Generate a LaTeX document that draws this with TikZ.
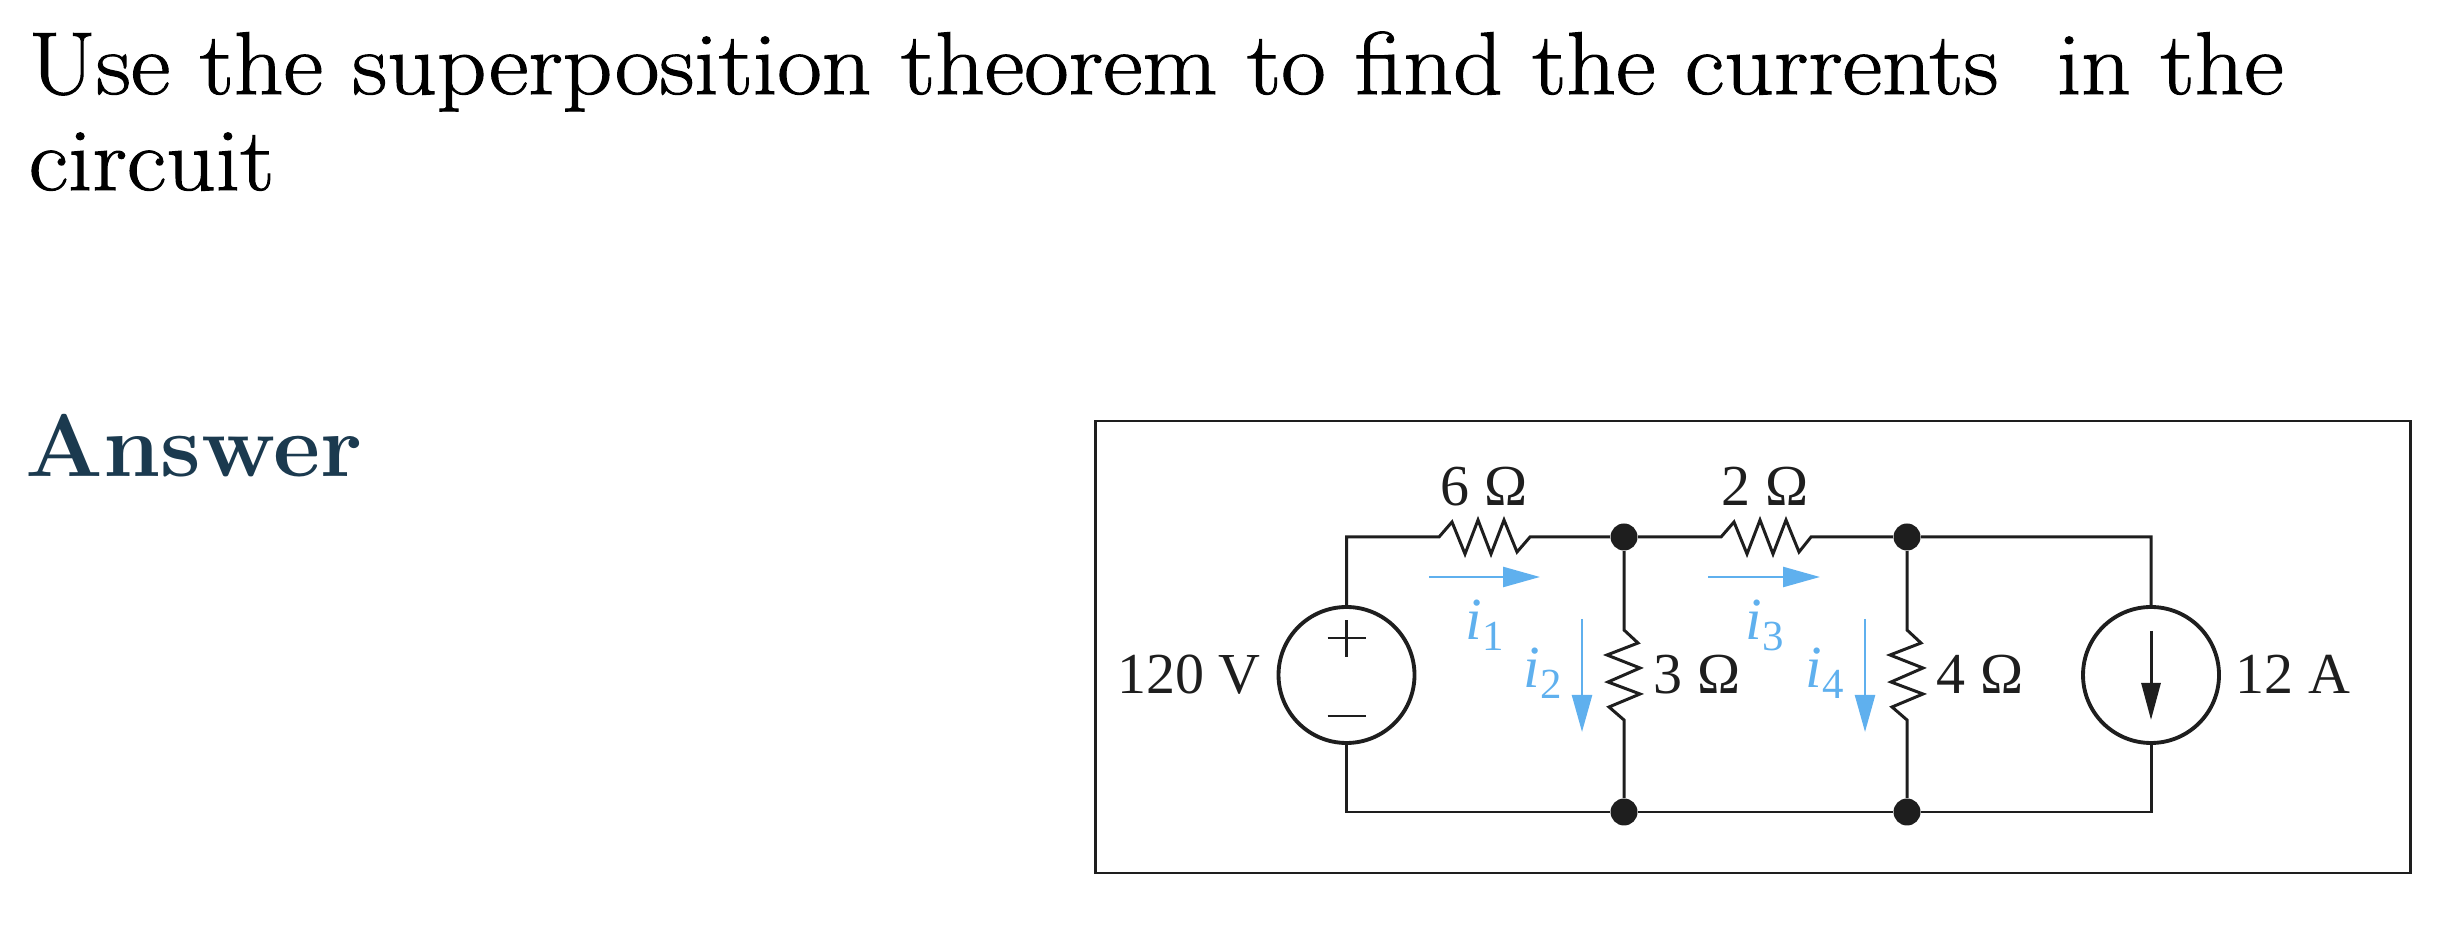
\documentclass[tikz,border=0pt]{standalone}
\usepackage{fontspec}
\usepackage{xcolor}
\usetikzlibrary{arrows.meta}
\newfontfamily\circfont{Liberation Serif}
\newfontfamily\titlefont{Latin Modern Roman}[FakeStretch=1.092,FakeBold=1.2]
\newfontfamily\answerfont{Latin Modern Roman}[FakeStretch=1.03]
\definecolor{HeadBlue}{RGB}{27,58,79}
\definecolor{CurBlue}{RGB}{95,176,238}
\definecolor{WireBlack}{RGB}{30,30,30}
\newcommand{\curlabel}[1]{\textit{i}\raisebox{-2.9pt}{\fontsize{12.2}{12}\selectfont #1}}
\tikzset{
  wire/.style={WireBlack,line width=0.85pt},
  source/.style={circle,draw=WireBlack,line width=1.1pt,minimum size=1.36cm,inner sep=0pt},
  junction/.style={circle,fill=WireBlack,minimum size=0.27cm,inner sep=0pt},
  heading/.style={anchor=base west,inner sep=0pt,font=\titlefont\fontsize{25.3}{26}\selectfont},
  circlabel/.style={anchor=base,inner sep=0pt,WireBlack,font=\circfont\fontsize{16.5}{16}\selectfont},
  curlab/.style={anchor=base west,inner sep=0pt,CurBlue,font=\circfont\fontsize{17}{17}\selectfont},
  curarrow/.style={CurBlue,line width=0.7pt,-{Triangle[length=0.37cm,width=0.2cm]}},
  hres/.style={to path={-- ++(.13,.15) -- ++(.13,-.32) -- ++(.13,.34) -- ++(.13,-.34) -- ++(.13,.34) -- ++(.13,-.32) -- (\tikztotarget)}},
  vres/.style={to path={-- ++(.14,-.13) -- ++(-.31,-.12) -- ++(.33,-.13) -- ++(-.32,-.14) -- ++(.32,-.12) -- ++(-.31,-.13) -- (\tikztotarget)}}
}
\begin{document}
\begin{tikzpicture}
  \useasboundingbox (0,0) rectangle (24.48,9.44);
  \node[heading] (title1) at (0.28,8.50) {Use the superposition theorem to find the currents\ \ in the};
  \node[heading] (title2) at (0.28,7.54) {circuit};
  \node[heading,HeadBlue,font=\answerfont\fontsize{25.3}{26}\selectfont\bfseries] (answer) at (0.25,4.67) {Answer};

  \node[draw=WireBlack,line width=0.65pt,inner sep=0pt,minimum width=13.15cm,minimum height=4.52cm] (frame) at (17.53,2.97) {};

  \node[source] (vs) at (13.465,2.69) {};
  \node[source] (is) at (21.51,2.69) {};
  \node[junction] (na) at (16.24,4.07) {};
  \node[junction] (nb) at (19.07,4.07) {};
  \node[junction] (nc) at (16.24,1.32) {};
  \node[junction] (nd) at (19.07,1.32) {};
  \coordinate (r6a) at (14.39,4.07);
  \coordinate (r6b) at (15.30,4.07);
  \coordinate (r2a) at (17.21,4.07);
  \coordinate (r2b) at (18.11,4.07);
  \coordinate (r3a) at (16.24,3.14);
  \coordinate (r3b) at (16.24,2.24);
  \coordinate (r4a) at (19.07,3.14);
  \coordinate (r4b) at (19.07,2.24);

  \draw[wire] (vs.north) |- (r6a) to[hres] (r6b) -- (na) -- (r2a) to[hres] (r2b) -- (nb) -| (is.north);
  \draw[wire] (vs.south) |- (nc) -- (nd) -| (is.south);
  \draw[wire] (na) -- (r3a) to[vres] (r3b) -- (nc);
  \draw[wire] (nb) -- (r4a) to[vres] (r4b) -- (nd);

  \draw[WireBlack,line width=0.7pt] ([xshift=-0.19cm,yshift=0.37cm]vs.center) -- ([xshift=0.19cm,yshift=0.37cm]vs.center);
  \draw[WireBlack,line width=0.6pt] ([yshift=0.18cm]vs.center) -- ([yshift=0.55cm]vs.center);
  \draw[WireBlack,line width=0.8pt] ([xshift=-0.19cm,yshift=-0.41cm]vs.center) -- ([xshift=0.19cm,yshift=-0.41cm]vs.center);
  \draw[wire,-{Triangle[length=0.37cm,width=0.19cm]}] ([yshift=0.44cm]is.center) -- ([yshift=-0.45cm]is.center);

  \foreach \name/\x/\y/\txt in {lv/11.89/2.50/120 V, lsix/14.84/4.38/6 Ω, ltwo/17.65/4.38/2 Ω, lthree/16.97/2.50/3 Ω, lfour/19.80/2.50/4 Ω, lcur/22.93/2.50/12 A} {
    \node[circlabel] (\name) at (\x,\y) {\txt};
  }

  \foreach \name/\xa/\ya/\xb/\yb in {ai/14.29/3.67/15.40/3.67, aii/15.82/3.25/15.82/2.12, aiii/17.08/3.67/18.20/3.67, aiv/18.65/3.25/18.65/2.12} {
    \coordinate (\name s) at (\xa,\ya);
    \coordinate (\name e) at (\xb,\yb);
    \draw[curarrow] (\name s) -- (\name e);
  }

  \foreach \name/\x/\y/\num in {li/14.65/3.04/1, lii/15.23/2.56/2, liii/17.45/3.04/3, liv/18.05/2.56/4} {
    \node[curlab] (\name) at (\x,\y) {\curlabel{\num}};
  }
\end{tikzpicture}
\end{document}
